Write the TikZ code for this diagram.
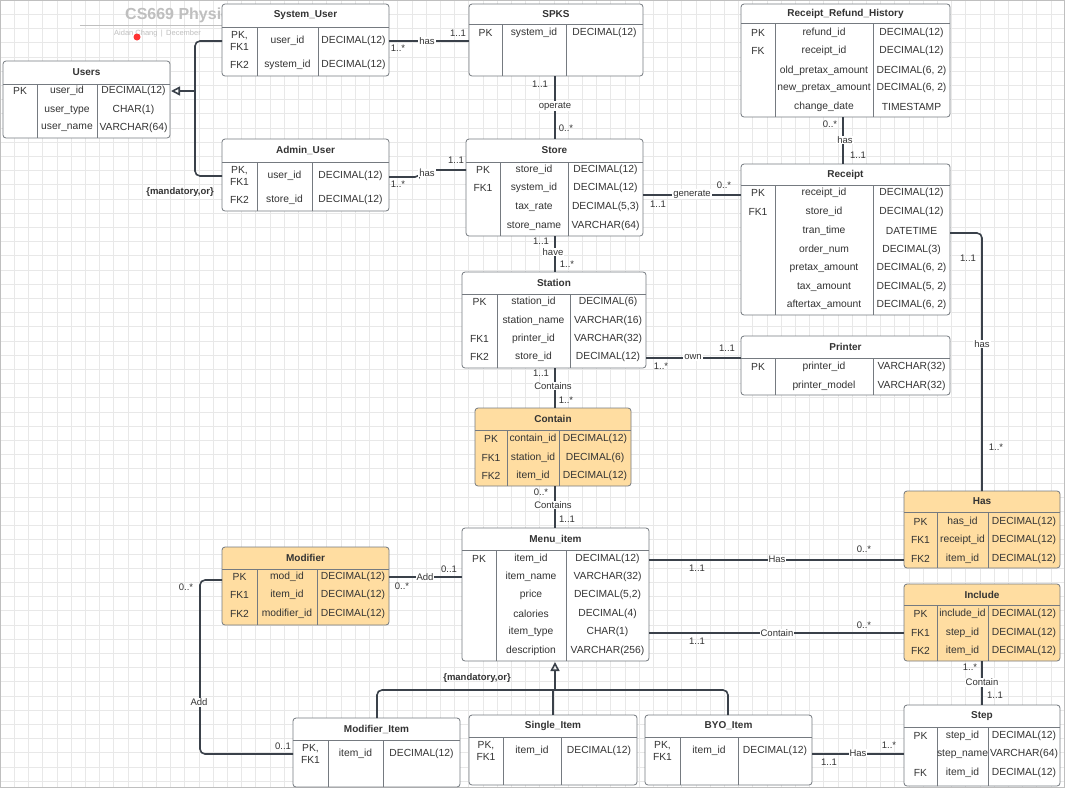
\documentclass[tikz,border=0pt]{standalone}
\usepackage{fontspec}
\setmainfont{Liberation Sans}
\usetikzlibrary{arrows.meta}
\definecolor{ln}{HTML}{3A414A}
\definecolor{org}{HTML}{FFDDA1}
\definecolor{txt}{HTML}{333333}
\tikzset{
 ent/.style={draw=ln!70,line width=0.8pt,rounded corners=3pt},
 sep/.style={draw=ln!70,line width=0.7pt},
 ttl/.style={font=\fontsize{10}{11}\selectfont\bfseries,text=txt},
 cell/.style={font=\fontsize{10.3}{11.5}\selectfont,text=txt,align=center,inner sep=0pt},
 con/.style={draw=ln,line width=1.6pt,rounded corners=5pt},
 lab/.style={font=\fontsize{9.5}{9.5}\selectfont,text=txt,inner sep=1pt},
 mid/.style={lab,fill=white},
 tri/.style={-{Triangle[open,length=9pt,width=9pt]}},
}
\newcommand\ent[9]{%
 \draw[ent,fill=#8] (#1,#2) rectangle (#3,#4);
 \draw[sep] (#1,#5)--(#3,#5) (#6,#5)--(#6,#4) (#7,#5)--(#7,#4);
 \node[ttl] at ({(#1+#3)/2},{(#2+#5)/2}) {#9};}
\newcommand\erow[8]{%
 \node[cell] at ({(#1+#2)/2},#5) {#6};
 \node[cell] at ({(#2+#3)/2},#5) {#7};
 \node[cell] at ({(#3+#4)/2},#5) {#8};}
\begin{document}
\begin{tikzpicture}[x=1pt,y=-1pt]
\useasboundingbox (0,0) rectangle (1065,788);
\fill[white] (0,0) rectangle (1065,788);
\foreach \i in {0,...,75} {\draw[gray!18,line width=0.5pt] ({\i*14.2},0)--({\i*14.2},788);}
\foreach \i in {0,...,56} {\draw[gray!18,line width=0.5pt] (0,{\i*14.2})--(1065,{\i*14.2});}
\draw[gray!50] (0.5,0.5) rectangle (1064.5,787.5);
% title
\node[anchor=west,font=\fontsize{16}{17}\selectfont\bfseries,text=gray!50,inner sep=0] (title) at (125,15) {CS669 Physic};
\draw[gray!50] (80,25)--(222,25);
\node[anchor=west,font=\fontsize{7.5}{8}\selectfont,text=gray!50,inner sep=0] (auth) at (114,34) {Aidan Chang \,|\, December};
\fill[red!80] (137,37) circle (3.5);
% entities
\ent{3}{61}{170}{138}{84}{37}{97}{white}{Users}
\erow{3}{37}{97}{170}{91}{PK}{user\_id}{DECIMAL(12)}
\erow{3}{37}{97}{170}{110}{}{user\_type}{CHAR(1)}
\erow{3}{37}{97}{170}{128}{}{user\_name}{VARCHAR(64)}

\ent{222}{4}{389}{76}{27}{257}{318}{white}{System\_User}
\erow{222}{257}{318}{389}{41}{PK,\\FK1}{user\_id}{DECIMAL(12)}
\erow{222}{257}{318}{389}{65}{FK2}{system\_id}{DECIMAL(12)}

\ent{469}{4}{643}{76}{24}{502}{566}{white}{SPKS}
\erow{469}{502}{566}{643}{33}{PK}{system\_id}{DECIMAL(12)}

\ent{741}{4}{950}{117}{23}{775}{873}{white}{Receipt\_Refund\_History}
\erow{741}{775}{873}{950}{33}{PK}{refund\_id}{DECIMAL(12)}
\erow{741}{775}{873}{950}{51}{FK}{receipt\_id}{DECIMAL(12)}
\erow{741}{775}{873}{950}{71}{}{old\_pretax\_amount}{DECIMAL(6, 2)}
\erow{741}{775}{873}{950}{88}{}{new\_pretax\_amount}{DECIMAL(6, 2)}
\erow{741}{775}{873}{950}{107}{}{change\_date}{TIMESTAMP}

\ent{222}{139}{389}{211}{162}{257}{312}{white}{Admin\_User}
\erow{222}{257}{312}{389}{176}{PK,\\FK1}{user\_id}{DECIMAL(12)}
\erow{222}{257}{312}{389}{200}{FK2}{store\_id}{DECIMAL(12)}

\ent{466}{139}{643}{236}{162}{500}{568}{white}{Store}
\erow{466}{500}{568}{643}{170}{PK}{store\_id}{DECIMAL(12)}
\erow{466}{500}{568}{643}{188}{FK1}{system\_id}{DECIMAL(12)}
\erow{466}{500}{568}{643}{207}{}{tax\_rate}{DECIMAL(5,3)}
\erow{466}{500}{568}{643}{226}{}{store\_name}{VARCHAR(64)}

\ent{741}{164}{950}{315}{185}{775}{873}{white}{Receipt}
\erow{741}{775}{873}{950}{193}{PK}{receipt\_id}{DECIMAL(12)}
\erow{741}{775}{873}{950}{212}{FK1}{store\_id}{DECIMAL(12)}
\erow{741}{775}{873}{950}{231}{}{tran\_time}{DATETIME}
\erow{741}{775}{873}{950}{250}{}{order\_num}{DECIMAL(3)}
\erow{741}{775}{873}{950}{268}{}{pretax\_amount}{DECIMAL(6, 2)}
\erow{741}{775}{873}{950}{287}{}{tax\_amount}{DECIMAL(5, 2)}
\erow{741}{775}{873}{950}{305}{}{aftertax\_amount}{DECIMAL(6, 2)}

\ent{462}{272}{646}{368}{294}{497}{570}{white}{Station}
\erow{462}{497}{570}{646}{302}{PK}{station\_id}{DECIMAL(6)}
\erow{462}{497}{570}{646}{321}{}{station\_name}{VARCHAR(16)}
\erow{462}{497}{570}{646}{339}{FK1}{printer\_id}{VARCHAR(32)}
\erow{462}{497}{570}{646}{357}{FK2}{store\_id}{DECIMAL(12)}

\ent{741}{336}{950}{395}{358}{775}{873}{white}{Printer}
\erow{741}{775}{873}{950}{367}{PK}{printer\_id}{VARCHAR(32)}
\erow{741}{775}{873}{950}{386}{}{printer\_model}{VARCHAR(32)}

\ent{475}{408}{631}{486}{430}{507}{559}{org}{Contain}
\erow{475}{507}{559}{631}{439}{PK}{contain\_id}{DECIMAL(12)}
\erow{475}{507}{559}{631}{458}{FK1}{station\_id}{DECIMAL(6)}
\erow{475}{507}{559}{631}{476}{FK2}{item\_id}{DECIMAL(12)}

\ent{462}{528}{649}{661}{550}{496}{566}{white}{Menu\_item}
\erow{462}{496}{566}{649}{559}{PK}{item\_id}{DECIMAL(12)}
\erow{462}{496}{566}{649}{577}{}{item\_name}{VARCHAR(32)}
\erow{462}{496}{566}{649}{595}{}{price}{DECIMAL(5,2)}
\erow{462}{496}{566}{649}{614}{}{calories}{DECIMAL(4)}
\erow{462}{496}{566}{649}{632}{}{item\_type}{CHAR(1)}
\erow{462}{496}{566}{649}{651}{}{description}{VARCHAR(256)}

\ent{222}{547}{389}{625}{569}{257}{317}{org}{Modifier}
\erow{222}{257}{317}{389}{577}{PK}{mod\_id}{DECIMAL(12)}
\erow{222}{257}{317}{389}{595}{FK1}{item\_id}{DECIMAL(12)}
\erow{222}{257}{317}{389}{614}{FK2}{modifier\_id}{DECIMAL(12)}

\ent{904}{491}{1060}{568}{512}{937}{988}{org}{Has}
\erow{904}{937}{988}{1060}{522}{PK}{has\_id}{DECIMAL(12)}
\erow{904}{937}{988}{1060}{540}{FK1}{receipt\_id}{DECIMAL(12)}
\erow{904}{937}{988}{1060}{559}{FK2}{item\_id}{DECIMAL(12)}

\ent{904}{584}{1060}{661}{605}{937}{988}{org}{Include}
\erow{904}{937}{988}{1060}{614}{PK}{include\_id}{DECIMAL(12)}
\erow{904}{937}{988}{1060}{633}{FK1}{step\_id}{DECIMAL(12)}
\erow{904}{937}{988}{1060}{651}{FK2}{item\_id}{DECIMAL(12)}

\ent{904}{705}{1060}{786}{727}{937}{988}{white}{Step}
\erow{904}{937}{988}{1060}{736}{PK}{step\_id}{DECIMAL(12)}
\erow{904}{937}{988}{1060}{754}{}{step\_name}{VARCHAR(64)}
\erow{904}{937}{988}{1060}{773}{FK}{item\_id}{DECIMAL(12)}

\ent{293}{718}{460}{787}{740}{328}{383}{white}{Modifier\_Item}
\erow{293}{328}{383}{460}{754}{PK,\\FK1}{item\_id}{DECIMAL(12)}
\ent{469}{715}{637}{785}{737}{503}{561}{white}{Single\_Item}
\erow{469}{503}{561}{637}{751}{PK,\\FK1}{item\_id}{DECIMAL(12)}
\ent{645}{715}{812}{785}{737}{680}{738}{white}{BYO\_Item}
\erow{645}{680}{738}{812}{751}{PK,\\FK1}{item\_id}{DECIMAL(12)}

% connectors
\draw[con] (389,41)--(469,41); \node[mid] at (427,41){has};
\node[lab] at (398,48){1..*}; \node[lab] at (458,33){1..1};
\draw[con] (389,177)--(420,177)--(420,170)--(466,170); \node[mid] at (427,173){has};
\node[lab] at (398,184){1..*}; \node[lab] at (456,160){1..1};
\draw[con] (222,41)--(195,41)--(195,176)--(222,176);
\draw[con,tri] (195,91)--(171,91);
\node[lab,font=\fontsize{9.5}{9.5}\selectfont\bfseries] at (180,192){\{mandatory,or\}};
\draw[con] (555,76)--(555,139); \node[mid] at (555,106){operate};
\node[lab] at (540,84){1..1}; \node[lab] at (566,128){0..*};
\draw[con] (843,117)--(843,164); \node[mid] at (845,140){has};
\node[lab] at (830,124){0..*}; \node[lab] at (858,155){1..1};
\draw[con] (643,195)--(741,195); \node[mid] at (692,194){generate};
\node[lab] at (658,204){1..1}; \node[lab] at (724,185){0..*};
\draw[con] (555,236)--(555,272); \node[mid] at (553,252){have};
\node[lab] at (541,241){1..1}; \node[lab] at (567,264){1..*};
\draw[con] (646,358)--(741,358); \node[mid] at (693,357){own};
\node[lab] at (661,366){1..*}; \node[lab] at (727,348){1..1};
\draw[con] (555,368)--(555,408); \node[mid] at (553,386){Contains};
\node[lab] at (541,373){1..1}; \node[lab] at (566,400){1..*};
\draw[con] (555,486)--(555,528); \node[mid] at (553,505){Contains};
\node[lab] at (541,492){0..*}; \node[lab] at (567,519){1..1};
\draw[con] (950,233)--(982,233)--(982,491); \node[mid] at (982,344){has};
\node[lab] at (968,258){1..1}; \node[lab] at (996,447){1..*};
\draw[con] (649,560)--(904,560); \node[mid] at (777,559){Has};
\node[lab] at (697,568){1..1}; \node[lab] at (864,549){0..*};
\draw[con] (649,633)--(904,633); \node[mid] at (777,633){Contain};
\node[lab] at (697,641){1..1}; \node[lab] at (864,625){0..*};
\draw[con] (982,661)--(982,705); \node[mid] at (982,682){Contain};
\node[lab] at (970,667){1..*}; \node[lab] at (995,695){1..1};
\draw[con] (812,754)--(904,754); \node[mid] at (858,753){Has};
\node[lab] at (829,762){1..1}; \node[lab] at (889,745){1..*};
\draw[con] (389,577)--(462,577); \node[mid] at (425,577){Add};
\node[lab] at (402,586){0..*}; \node[lab] at (449,569){0..1};
\draw[con] (222,580)--(200,580)--(200,754)--(293,754); \node[mid] at (199,702){Add};
\node[lab] at (186,587){0..*}; \node[lab] at (283,746){0..1};
\draw[con] (377,718)--(377,690)--(728,690)--(728,715);
\draw[con] (553,715)--(553,690);
\draw[con,tri] (555,690)--(555,662);
\node[lab,font=\fontsize{9.5}{9.5}\selectfont\bfseries] at (477,678){\{mandatory,or\}};
\end{tikzpicture}
\end{document}
